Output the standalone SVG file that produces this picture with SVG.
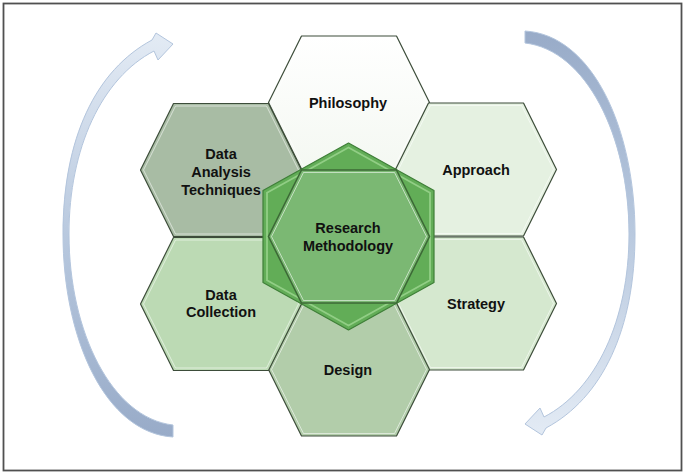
<svg xmlns="http://www.w3.org/2000/svg" xmlns:xlink="http://www.w3.org/1999/xlink" width="685" height="473" viewBox="0 0 685 473">
<style>
  .hex { stroke: #3d4d3a; stroke-width: 1.2; stroke-linejoin: round; }
  .hi { fill: none; stroke: #ffffff; stroke-opacity: 0.55; stroke-width: 1; }
  .lbl { font-family: "Liberation Sans", Arial, sans-serif; font-weight: bold; font-size: 14.5px; fill: #111111; text-anchor: middle; }
  .arrow { stroke: #b3c5dd; stroke-width: 1; stroke-linejoin: round; }
</style>
<defs>
  <path id="hexshape" d="M -47.5 -66.5 L 47.5 -66.5 L 80.5 0 L 47.5 66.5 L -47.5 66.5 L -80.5 0 Z"/>
  <path id="hexinner" d="M -45.5 -64 L 45.5 -64 L 77.5 0 L 45.5 64 L -45.5 64 L -77.5 0 Z"/>
  <linearGradient id="arrowGrad" gradientUnits="userSpaceOnUse" x1="0" y1="31" x2="0" y2="430">
    <stop offset="0" stop-color="#98abc8"/>
    <stop offset="0.45" stop-color="#b4c5dc"/>
    <stop offset="1" stop-color="#e2eaf4"/>
  </linearGradient>
  <linearGradient id="philGrad" x1="0" y1="0" x2="0" y2="1">
    <stop offset="0" stop-color="#ffffff"/>
    <stop offset="1" stop-color="#f4f8f2"/>
  </linearGradient>
</defs>

<rect x="3.5" y="3.5" width="678" height="467" fill="#ffffff" stroke="#505050" stroke-width="1.8"/>

<g id="connectors">
  <path id="arrow-right" class="arrow" fill="url(#arrowGrad)" d="M 525 31 C 592 35 635 128 635 234 C 635 330 602 398 546 428 L 542 435 L 525 424 L 540 408 L 544 417 C 596 390 629 320 629 234 C 629 136 586 50 525 43 Z"/>
  <path id="arrow-left" class="arrow" fill="url(#arrowGrad)" transform="rotate(180 349 234)" d="M 525 31 C 592 35 635 128 635 234 C 635 330 602 398 546 428 L 542 435 L 525 424 L 540 408 L 544 417 C 596 390 629 320 629 234 C 629 136 586 50 525 43 Z"/>
</g>

<g id="philosophy">
  <use href="#hexshape" class="hex" fill="url(#philGrad)" transform="translate(349 102.5)"/>
  <use href="#hexinner" class="hi" transform="translate(349 102.5)"/>
  <text class="lbl" x="348" y="107.5">Philosophy</text>
</g>
<g id="approach">
  <use href="#hexshape" class="hex" fill="#e5f1e1" transform="translate(476 169.5)"/>
  <use href="#hexinner" class="hi" transform="translate(476 169.5)"/>
  <text class="lbl" x="476" y="174.5">Approach</text>
</g>
<g id="strategy">
  <use href="#hexshape" class="hex" fill="#d5e8cf" transform="translate(476 303.5)"/>
  <use href="#hexinner" class="hi" transform="translate(476 303.5)"/>
  <text class="lbl" x="476" y="308.5">Strategy</text>
</g>
<g id="design">
  <use href="#hexshape" class="hex" fill="#b2cdaa" transform="translate(349 369.5)"/>
  <use href="#hexinner" class="hi" transform="translate(349 369.5)"/>
  <text class="lbl" x="348" y="375">Design</text>
</g>
<g id="data-collection">
  <use href="#hexshape" class="hex" fill="#bcdab4" transform="translate(221 304)"/>
  <use href="#hexinner" class="hi" transform="translate(221 304)"/>
  <text class="lbl" x="221" y="299.5">Data</text>
  <text class="lbl" x="221" y="317">Collection</text>
</g>
<g id="data-analysis-techniques">
  <use href="#hexshape" class="hex" fill="#a8bca4" transform="translate(221 170)"/>
  <use href="#hexinner" class="hi" transform="translate(221 170)"/>
  <text class="lbl" x="221" y="158.5">Data</text>
  <text class="lbl" x="221" y="177">Analysis</text>
  <text class="lbl" x="221" y="195">Techniques</text>
</g>

<g id="research-methodology">
  <polygon points="348.5,143 434,190.5 434,282.5 348.5,330 263,282.5 263,190.5" fill="#62ad57" stroke="#3f7f38" stroke-width="1.2" stroke-linejoin="round"/>
  <polygon points="348.5,147.5 430,192.8 430,280.2 348.5,325.5 267,280.2 267,192.8" fill="none" stroke="#9ad48d" stroke-width="1.8" stroke-opacity="0.85"/>
  <use href="#hexshape" fill="#7bb873" stroke="#3c6a36" stroke-width="1.6" transform="translate(349 236.5)"/>
  <use href="#hexinner" class="hi" stroke-opacity="0.35" transform="translate(349 236.5)"/>
  <text class="lbl" x="348" y="232.5">Research</text>
  <text class="lbl" x="348" y="250.5">Methodology</text>
</g>
</svg>
